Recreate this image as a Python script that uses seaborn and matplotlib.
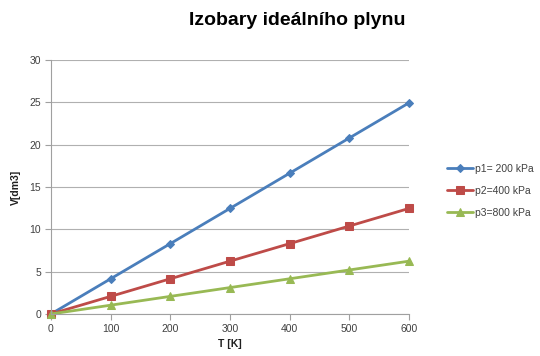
import matplotlib
matplotlib.use("Agg")
import matplotlib.pyplot as plt
import seaborn as sns
import pandas as pd

T = [0, 100, 200, 300, 400, 500, 600]
p1 = [0, 4.16, 8.31, 12.47, 16.63, 20.79, 24.94]
p2 = [0, 2.08, 4.16, 6.24, 8.31, 10.39, 12.47]
p3 = [0, 1.04, 2.08, 3.12, 4.16, 5.20, 6.24]
labels = ["p1= 200 kPa", "p2=400 kPa", "p3=800 kPa"]
colors = ["#4A7EBB", "#BE4B48", "#98B954"]
markers = ["D", "s", "^"]
msizes = [4, 6, 6]

sns.set_theme(style="white")
plt.rcParams['font.family'] = ['Liberation Sans', 'DejaVu Sans']

fig = plt.figure(figsize=(5.4, 3.56), dpi=100)
ax = fig.add_axes([0.0944, 0.118, 0.6626, 0.713])

for vals, lab, c, m, ms in zip([p1, p2, p3], labels, colors, markers, msizes):
    df = pd.DataFrame({"T": T, "V": vals})
    sns.lineplot(data=df, x="T", y="V", ax=ax, color=c, marker=m, markersize=ms,
                 markeredgecolor=c, linewidth=2.0, label=lab, clip_on=False)

ax.set_xlim(0, 600)
ax.set_ylim(0, 30)
ax.set_xticks(range(0, 601, 100))
ax.set_yticks(range(0, 31, 5))
ax.yaxis.grid(True, color="#B0B0B0", linewidth=0.8)
ax.xaxis.grid(False)
ax.set_axisbelow(True)
for s in ["top", "right"]:
    ax.spines[s].set_visible(False)
for s in ["left", "bottom"]:
    ax.spines[s].set_color("#A0A0A0")
    ax.spines[s].set_linewidth(0.8)
ax.tick_params(axis="both", which="both", length=4, color="#A0A0A0", width=0.8,
               labelsize=7.5, labelcolor="#404040", direction="out", pad=3)
ax.tick_params(axis="x", bottom=True)
ax.tick_params(axis="y", left=True)
ax.set_xlabel("T [K]", fontsize=7.5, fontweight="bold", color="#202020", labelpad=4)
ax.set_ylabel("V[dm3]", fontsize=7.5, fontweight="bold", color="#202020", labelpad=6)

fig.text(0.551, 0.943, "Izobary ideálního plynu", ha="center", va="center",
         fontsize=14, fontweight="bold", color="black")

leg = ax.legend(loc="center left", bbox_to_anchor=(1.08, 0.485), frameon=False,
                fontsize=7.5, handlelength=2.5, labelspacing=1.15, handletextpad=0.2)
for t in leg.get_texts():
    t.set_color("#404040")

fig.savefig("out.png", dpi=100)
